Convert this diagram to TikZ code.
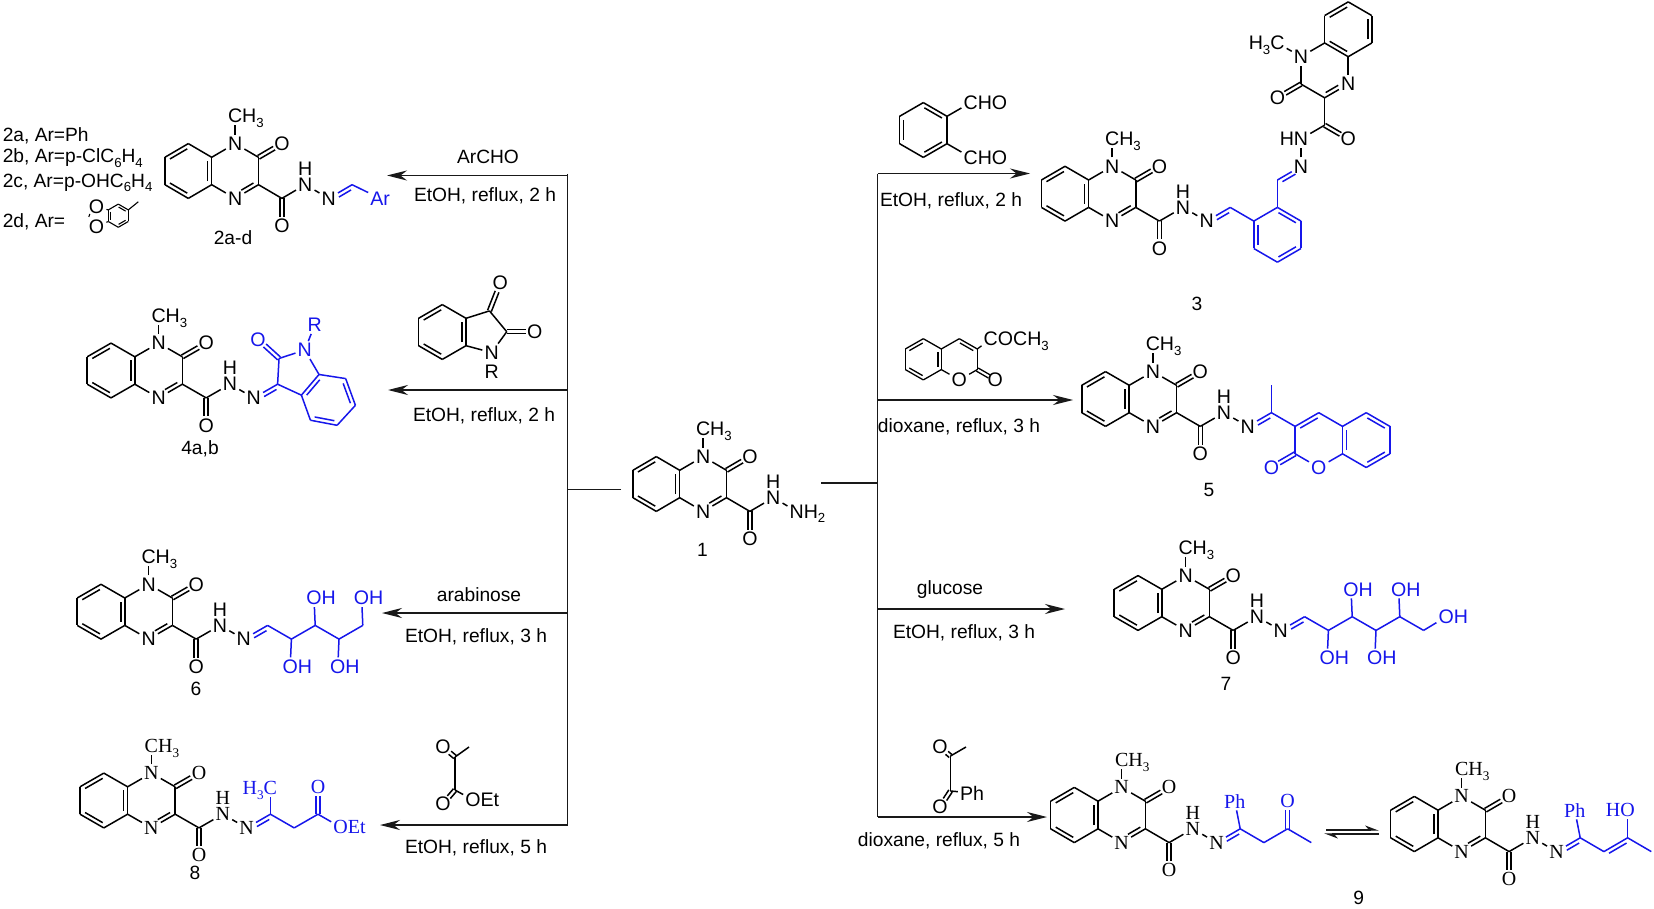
\documentclass[tikz,border=0pt]{standalone}
\usepackage{fontspec}
\setmainfont{Liberation Sans}
\newfontfamily\lserif{Liberation Serif}
\usetikzlibrary{calc,arrows.meta}
\definecolor{mblue}{RGB}{22,22,235}
\definecolor{lineblack}{RGB}{25,25,25}
\newcommand\lbl{\fontsize{9.6}{11}\selectfont}
\newcommand\atomf{\fontsize{9.8}{11}\selectfont}
\newcommand\subn[1]{\raisebox{-0.24em}{\fontsize{6.6}{7}\selectfont #1}}
\def\dd{2pt}
\tikzset{
  atom/.style={font=\atomf,inner sep=1.1pt,outer sep=0pt},
  txt/.style={font=\lbl,inner sep=0pt},
  mol/.style n args={4}{shift={(#1,#2)},x=#3,y=#4},
  rxn/.style={line width=.7pt,lineblack},
  rxnarrow/.style={rxn,-{Stealth[length=10pt,width=5pt]}},
}
\newcommand\atomR[4]{\node[atom] (#1) at #2 {#3}; \node[atom,anchor=base west] (#1x) at ($(#1.base east)+(-2.2pt,0)$) {#4};}
\newcommand\atomL[4]{\node[atom] (#1) at #2 {#3}; \node[atom,anchor=base east] (#1x) at ($(#1.base west)+(2.2pt,0)$) {#4};}
\newcommand\bnd[2]{\draw (#1)--(#2);}
\newcommand\dbl[5]{\draw (#1)--(#2); \draw ($(#1)!#3!(#2)!\dd!#5:(#2)$)--($(#1)!#4!(#2)!\dd!#5:(#2)$);}
\newcommand\dsym[2]{\draw[shorten >=4.5pt] ($(#1)!1pt!90:(#2)$)--($(#2)!1pt!-90:(#1)$); \draw[shorten >=4.5pt] ($(#1)!1pt!-90:(#2)$)--($(#2)!1pt!90:(#1)$);}
% fused ring: lattice hexagon with three inner double bonds (left part)
\newcommand\core[1]{
  \coordinate (#1a) at (0,2); \coordinate (#1b) at (-1,1); \coordinate (#1c) at (-1,-1);
  \coordinate (#1d) at (0,-2); \coordinate (#1e) at (1,-1); \coordinate (#1f) at (1,1);
  \coordinate (#1g) at (3,1); \coordinate (#1h) at (3,-1); \coordinate (#1i) at (4,-2);
  \node[atom] (#1N) at (2,2) {N};
  \atomR{#1Me}{(2,4)}{C}{H\subn{3}}
  \node[atom] (#1O) at (4,2) {O};
  \node[atom] (#1M) at (2,-2) {N};
  \node[atom] (#1P) at (4,-4) {O};
  \node[atom] (#1Q) at (5,-1) {N};
  \node[atom] (#1H) at (5,.17) {H};
  \node[atom] (#1R) at (6,-2) {N};
  \dbl{#1a}{#1b}{.13}{.87}{90}
  \bnd{#1b}{#1c}
  \dbl{#1c}{#1d}{.13}{.87}{90}
  \bnd{#1d}{#1e}
  \dbl{#1e}{#1f}{.13}{.87}{90}
  \bnd{#1f}{#1a}
  \bnd{#1f}{#1N}
  \bnd{#1N}{#1Me}
  \bnd{#1N}{#1g}
  \bnd{#1g}{#1h}
  \dsym{#1g}{#1O}
  \dbl{#1M}{#1h}{.35}{.87}{90}
  \bnd{#1e}{#1M}
  \bnd{#1h}{#1i}
  \dsym{#1i}{#1P}
  \bnd{#1i}{#1Q}
  \bnd{#1Q}{#1R}
}
\begin{document}
\begin{tikzpicture}[x=.5pt,y=-.5pt,line width=.75pt]
\useasboundingbox (0,0) rectangle (1654,909);
\fill[white] (0,0) rectangle (1654,909);
% scaffold coordinates
\coordinate (LT) at (567.5,174); \coordinate (LB) at (567.5,825);
\coordinate (LS) at (621,489.5); \coordinate (LM) at (567.5,489.5);
\coordinate (RT) at (877.5,174); \coordinate (RB) at (877.5,817);
\coordinate (RS) at (821,483); \coordinate (RM) at (877.5,483);
\coordinate (L1) at (567.5,175.5); \coordinate (L1t) at (387,175.5);
\coordinate (L2) at (567.5,390); \coordinate (L2t) at (388,390);
\coordinate (L3) at (567.5,613); \coordinate (L3t) at (382,613);
\coordinate (L4) at (567.5,825); \coordinate (L4t) at (380,825);
\coordinate (R1) at (877.5,173.5); \coordinate (R1t) at (1030,173.5);
\coordinate (R2) at (877.5,400); \coordinate (R2t) at (1073,400);
\coordinate (R3) at (877.5,609); \coordinate (R3t) at (1065,609);
\coordinate (R4) at (877.5,817); \coordinate (R4t) at (1047,817);
\draw[rxn] (LT)--(LB);
\draw[rxn] (LS)--(LM);
\draw[rxn] (RT)--(RB);
\draw[rxn] (RS)--(RM);
\foreach \a/\b in {L1/L1t,L2/L2t,L3/L3t,L4/L4t,R1/R1t,R2/R2t,R3/R3t,R4/R4t}{\draw[rxnarrow] (\a)--(\b);}
% conditions
\node[txt] (tL1a) at (488,157) {ArCHO};
\node[txt] (tL1b) at (485,196) {EtOH, reflux, 2 h};
\node[txt] (tL2) at (484,416) {EtOH, reflux, 2 h};
\node[txt] (tL3a) at (479,595) {arabinose};
\node[txt] (tL3b) at (476,637) {EtOH, reflux, 3 h};
\node[txt] (tL4) at (476,848) {EtOH, reflux, 5 h};
\node[txt] (tR1) at (951,201) {EtOH, reflux, 2 h};
\node[txt] (tR2) at (959,427) {dioxane, reflux, 3 h};
\node[txt] (tR3a) at (950,590) {glucose};
\node[txt] (tR3b) at (964,633) {EtOH, reflux, 3 h};
\node[txt] (tR4) at (939,841) {dioxane, reflux, 5 h};
% compound numbers
\node[txt] (n2) at (233,238) {2a-d};
\node[txt] (n4) at (200,449) {4a,b};
\node[txt] (n6) at (196,689) {6};
\node[txt] (n8) at (195,873) {8};
\node[txt] (n1) at (702.5,549.5) {1};
\node[txt] (n3) at (1197,304) {3};
\node[txt] (n5) at (1209,490) {5};
\node[txt] (n7) at (1226,683.5) {7};
\node[txt] (n9) at (1358.6,898) {9};
% Ar list
\node[txt,anchor=west] (l2a) at (2,136) {2a, Ar=Ph};
\node[txt,anchor=west] (l2b) at (2,158) {2b, Ar=p-ClC\subn{6}H\subn{4}};
\node[txt,anchor=west] (l2c) at (2,183) {2c, Ar=p-OHC\subn{6}H\subn{4}};
\node[txt,anchor=west] (l2d) at (2,222) {2d, Ar=};
% 2d Ar fragment
\begin{scope}[mol={118.3}{215.7}{5pt}{2.9pt},line width=.55pt]
\coordinate (za) at (0,2); \coordinate (zb) at (-1,1); \coordinate (zc) at (-1,-1);
\coordinate (zd) at (0,-2); \coordinate (ze) at (1,-1); \coordinate (zf) at (1,1);
\coordinate (zm) at (2,2.4);
\coordinate (zt1) at (-2.85,.3); \coordinate (zt2) at (-2.95,-.2);
\node[atom] (zO1) at (-2.17,1.54) {O};
\node[atom] (zO2) at (-2.17,-1.9) {O};
\def\dd{1.2pt}
\dbl{zb}{zc}{.15}{.85}{90}
\dbl{zd}{ze}{.15}{.85}{90}
\dbl{zf}{za}{.15}{.85}{90}
\bnd{za}{zb}\bnd{zc}{zd}\bnd{ze}{zf}\bnd{zf}{zm}
\bnd{zO1}{zb}\bnd{zO2}{zc}\bnd{zt1}{zt2}
\end{scope}
% 1
\begin{scope}[mol={656.3}{484}{11.7pt}{6.85pt}]
\core{a}
\node[atom,anchor=base west] (aNH) at ($(aR.base east)+(-2.2pt,0)$) {H\subn{2}};
\end{scope}
% 2
\begin{scope}[mol={188.3}{171}{11.7pt}{6.85pt}]
\core{b}
\begin{scope}[color=mblue]
\coordinate (bc1) at (7,-1);
\node[atom] (bAr) at (8.2,-2) {Ar};
\dbl{bR}{bc1}{.35}{.87}{-90}
\bnd{bc1}{bAr}
\end{scope}
\end{scope}
% 4
\begin{scope}[mol={111}{370.5}{11.9pt}{6.85pt}]
\core{d}
\begin{scope}[color=mblue]
\coordinate (dCa) at (7,-1); \coordinate (dCb) at (7.06,.88);
\node[atom] (dOx) at (6.18,2.27) {O};
\node[atom] (dNi) at (8.14,1.49) {N};
\node[atom] (dRr) at (8.56,3.32) {R};
\coordinate (d7a) at (8.74,-.29); \coordinate (d3a) at (8,-1.8);
\coordinate (d7) at (9.86,-.59); \coordinate (d6) at (10.27,-2.54);
\coordinate (d5) at (9.5,-4); \coordinate (d4) at (8.38,-3.63);
\dbl{dR}{dCa}{.35}{.87}{-90}
\bnd{dCa}{dCb}\dsym{dCb}{dOx}\bnd{dCb}{dNi}\bnd{dNi}{dRr}\bnd{dNi}{d7a}\bnd{dCa}{d3a}
\dbl{d3a}{d7a}{.13}{.87}{-90}
\bnd{d7a}{d7}
\dbl{d6}{d7}{.13}{.87}{90}
\bnd{d6}{d5}
\dbl{d4}{d5}{.13}{.87}{90}
\bnd{d3a}{d4}
\end{scope}
\end{scope}
% 6
\begin{scope}[mol={101}{611.7}{11.9pt}{6.85pt}]
\core{f}
\begin{scope}[color=mblue]
\coordinate (f7) at (7,-1); \coordinate (f8) at (8,-2); \coordinate (f9) at (9,-1);
\coordinate (f10) at (10,-2); \coordinate (f11) at (11,-1);
\atomR{fo1}{(7.95,-4)}{O}{H}
\atomR{fo2}{(8.95,1)}{O}{H}
\atomR{fo3}{(9.95,-4)}{O}{H}
\atomR{fo4}{(10.95,1)}{O}{H}
\dbl{fR}{f7}{.35}{.87}{-90}
\bnd{f7}{f8}\bnd{f8}{f9}\bnd{f9}{f10}\bnd{f10}{f11}
\bnd{f8}{fo1}\bnd{f9}{fo2}\bnd{f10}{fo3}\bnd{f11}{fo4}
\end{scope}
\end{scope}
% 7
\begin{scope}[mol={1138}{603}{11.9pt}{6.85pt}]
\core{g}
\begin{scope}[color=mblue]
\coordinate (g7) at (7,-1); \coordinate (g8) at (8,-2); \coordinate (g9) at (9,-1);
\coordinate (g10) at (10,-2); \coordinate (g11) at (11,-1); \coordinate (g12) at (12,-2);
\atomR{go1}{(7.95,-4)}{O}{H}
\atomR{go2}{(8.95,1)}{O}{H}
\atomR{go3}{(9.95,-4)}{O}{H}
\atomR{go4}{(10.95,1)}{O}{H}
\atomR{go5}{(12.95,-1)}{O}{H}
\dbl{gR}{g7}{.35}{.87}{-90}
\bnd{g7}{g8}\bnd{g8}{g9}\bnd{g9}{g10}\bnd{g10}{g11}\bnd{g11}{g12}\bnd{g12}{go5}
\bnd{g8}{go1}\bnd{g9}{go2}\bnd{g10}{go3}\bnd{g11}{go4}
\end{scope}
\end{scope}
% 3
\begin{scope}[mol={1065}{193.7}{11.8pt}{6.85pt}]
\core{c}
\begin{scope}[color=mblue]
\coordinate (c7) at (7,-1); \coordinate (c8) at (8,-2); \coordinate (c9) at (8,-4);
\coordinate (c10) at (9,-5); \coordinate (c11) at (10,-4); \coordinate (c12) at (10,-2);
\coordinate (c13) at (9,-1); \coordinate (c14) at (9,1);
\end{scope}
\node[atom] (cN2) at (10,2) {N};
\atomL{cN3}{(10,4)}{N}{H}
\coordinate (cC) at (11,5); \node[atom] (cO2) at (12,4) {O};
\coordinate (cD) at (11,7); \coordinate (cE) at (10,8); \node[atom] (cO3) at (9,7) {O};
\node[atom] (cN4) at (10,10) {N};
\atomL{cMe}{(9,11)}{C}{H\subn{3}}
\node[atom] (cN5) at (12,8) {N};
\coordinate (cF) at (12,10); \coordinate (cG) at (11,11); \coordinate (cJ) at (11,13);
\coordinate (cK) at (12,14); \coordinate (cL) at (13,13); \coordinate (cS) at (13,11);
\begin{scope}[color=mblue]
\dbl{cR}{c7}{.35}{.87}{-90}
\bnd{c7}{c8}
\dbl{c8}{c9}{.13}{.87}{90}
\bnd{c9}{c10}
\dbl{c10}{c11}{.13}{.87}{90}
\bnd{c11}{c12}
\dbl{c12}{c13}{.13}{.87}{90}
\bnd{c13}{c8}
\bnd{c13}{c14}
\dbl{c14}{cN2}{.13}{.68}{-90}
\end{scope}
\bnd{cN2}{cN3}\bnd{cN3}{cC}\dsym{cC}{cO2}\bnd{cC}{cD}\bnd{cD}{cE}\dsym{cE}{cO3}\bnd{cE}{cN4}
\bnd{cN4}{cMe}\bnd{cN4}{cG}
\dbl{cD}{cN5}{.13}{.66}{90}
\bnd{cN5}{cF}
\dbl{cG}{cF}{.13}{.87}{90}
\bnd{cG}{cJ}
\dbl{cK}{cJ}{.13}{.87}{90}
\bnd{cK}{cL}
\dbl{cS}{cL}{.13}{.87}{90}
\bnd{cS}{cF}
\end{scope}
% 5
\begin{scope}[mol={1105.5}{399}{11.85pt}{6.85pt}]
\core{e}
\begin{scope}[color=mblue]
\coordinate (e7) at (7,-1); \coordinate (e7m) at (7,1); \coordinate (e8) at (8,-2);
\coordinate (e9) at (9,-1); \coordinate (e10) at (10,-2); \coordinate (e11) at (11,-1);
\coordinate (e12) at (12,-2); \coordinate (e13) at (12,-4); \coordinate (e14) at (11,-5);
\coordinate (e15) at (10,-4); \coordinate (e17) at (8,-4);
\node[atom] (eO1) at (9,-5) {O};
\node[atom] (eO2) at (7,-5) {O};
\dbl{eR}{e7}{.35}{.87}{-90}
\bnd{e7}{e7m}\bnd{e7}{e8}
\dbl{e8}{e9}{.13}{.87}{-90}
\bnd{e9}{e10}\bnd{e10}{e11}
\dbl{e11}{e12}{.13}{.87}{-90}
\bnd{e12}{e13}
\dbl{e14}{e13}{.13}{.87}{90}
\bnd{e14}{e15}
\dbl{e15}{e10}{.13}{.87}{-90}
\bnd{e15}{eO1}\bnd{eO1}{e17}\bnd{e17}{e8}\dsym{e17}{eO2}
\end{scope}
\end{scope}
% 8
\begin{scope}[mol={103.8}{800.5}{11.9pt}{6.85pt}]
\renewcommand\atomf{\lserif\fontsize{10}{11}\selectfont}
\core{h}
\begin{scope}[color=mblue]
\coordinate (h7) at (7,-1); \coordinate (h8) at (8,-2); \coordinate (h9) at (9,-1);
\atomL{hMe}{(7,.9)}{C}{H\subn{3}}
\node[atom] (hO1) at (9,1) {O};
\atomR{hO2}{(9.95,-1.95)}{O}{Et}
\dbl{hR}{h7}{.35}{.87}{-90}
\bnd{h7}{hMe}\bnd{h7}{h8}\bnd{h8}{h9}\dsym{h9}{hO1}\bnd{h9}{hO2}
\end{scope}
\end{scope}
% 9a
\begin{scope}[mol={1074.3}{815}{11.85pt}{6.9pt}]
\renewcommand\atomf{\lserif\fontsize{10}{11}\selectfont}
\core{j}
\begin{scope}[color=mblue]
\coordinate (j7) at (7,-1); \coordinate (j8) at (8,-2); \coordinate (j9) at (9,-1); \coordinate (j10) at (10,-2);
\node[atom] (jPh) at (6.77,1) {Ph};
\node[atom] (jO1) at (9,1) {O};
\dbl{jR}{j7}{.35}{.87}{-90}
\bnd{j7}{jPh}\bnd{j7}{j8}\bnd{j8}{j9}\dsym{j9}{jO1}\bnd{j9}{j10}
\end{scope}
\end{scope}
% 9b
\begin{scope}[mol={1414.3}{824}{11.85pt}{6.9pt}]
\renewcommand\atomf{\lserif\fontsize{10}{11}\selectfont}
\core{k}
\begin{scope}[color=mblue]
\coordinate (k7) at (7,-1); \coordinate (k8) at (8,-2); \coordinate (k9) at (9,-1); \coordinate (k10) at (10,-2);
\node[atom] (kPh) at (6.77,1) {Ph};
\atomL{kO1}{(9,1)}{O}{H}
\dbl{kR}{k7}{.35}{.87}{-90}
\bnd{k7}{kPh}\bnd{k7}{k8}
\dbl{k8}{k9}{.13}{.87}{-90}
\bnd{k9}{kO1}\bnd{k9}{k10}
\end{scope}
\end{scope}
% equilibrium
\coordinate (qa) at (1326,830); \coordinate (qb) at (1379,830);
\coordinate (qc) at (1379,834); \coordinate (qd) at (1324,834);
\draw[rxn,-{Stealth[harpoon,length=6pt,width=4.5pt]}] (qa)--(qb);
\draw[rxn,-{Stealth[harpoon,length=6pt,width=4.5pt]}] (qc)--(qd);
% reagent o-phthalaldehyde
\begin{scope}[mol={923.3}{130}{11.85pt}{6.85pt}]
\coordinate (ra) at (0,2); \coordinate (rb) at (-1,1); \coordinate (rc) at (-1,-1);
\coordinate (rd) at (0,-2); \coordinate (re) at (1,-1); \coordinate (rf) at (1,1);
\atomR{rC1}{(2,2)}{C}{HO}
\atomR{rC2}{(2,-2)}{C}{HO}
\dbl{rf}{ra}{.13}{.87}{90}\bnd{ra}{rb}
\dbl{rb}{rc}{.13}{.87}{90}\bnd{rc}{rd}
\dbl{rd}{re}{.13}{.87}{90}\bnd{re}{rf}
\bnd{rf}{rC1}\bnd{re}{rC2}
\end{scope}
% reagent coumarin
\begin{scope}[mol={923.3}{359.3}{9pt}{5.15pt},line width=.65pt]
\def\dd{1.7pt}
\coordinate (sa) at (0,2); \coordinate (sb) at (-1,1); \coordinate (sc) at (-1,-1);
\coordinate (sd) at (0,-2); \coordinate (se) at (1,-1); \coordinate (sf) at (1,1);
\coordinate (sg) at (2,2); \coordinate (sh) at (3,1); \coordinate (si) at (3,-1);
\node[atom] (sO) at (2,-2) {O};
\node[atom] (sO2) at (4,-2) {O};
\atomR{sC}{(3.75,2)}{C}{OCH\subn{3}}
\dbl{sa}{sb}{.13}{.87}{90}\bnd{sb}{sc}
\dbl{sc}{sd}{.13}{.87}{90}\bnd{sd}{se}
\dbl{se}{sf}{.13}{.87}{90}\bnd{sf}{sa}
\bnd{sf}{sg}
\dbl{sg}{sh}{.13}{.87}{-90}
\bnd{sh}{si}\bnd{si}{sO}\bnd{sO}{se}\bnd{sh}{sC}
\draw[shorten >=3.5pt] ($(si)!.9pt!90:(sO2)$)--($(sO2)!.9pt!-90:(si)$);
\draw[shorten >=3.5pt] ($(si)!.9pt!-90:(sO2)$)--($(sO2)!.9pt!90:(si)$);
\end{scope}
% reagent isatin
\begin{scope}[mol={442.3}{332}{11.85pt}{6.85pt}]
\coordinate (ia) at (0,2); \coordinate (ib) at (-1,1); \coordinate (ic) at (-1,-1);
\coordinate (id) at (0,-2); \coordinate (ie) at (1,-1); \coordinate (if) at (1,1);
\coordinate (ig) at (1.99,1.54); \coordinate (ih) at (2.72,.02);
\node[atom] (iO1) at (2.45,3.56) {O};
\node[atom] (iO2) at (3.9,.02) {O};
\node[atom] (iN) at (2.08,-1.5) {N};
\node[atom] (iR) at (2.08,-2.9) {R};
\dbl{ia}{ib}{.13}{.87}{90}\bnd{ib}{ic}
\dbl{ic}{id}{.13}{.87}{90}\bnd{id}{ie}
\dbl{ie}{if}{.13}{.87}{90}\bnd{if}{ia}
\bnd{if}{ig}\bnd{ig}{ih}\bnd{ih}{iN}\bnd{iN}{ie}\dsym{ig}{iO1}\dsym{ih}{iO2}
\end{scope}
% reagent ethyl acetoacetate
\coordinate (uC1) at (455,757); \coordinate (uMe) at (469,747); \coordinate (uC2) at (455,773); \coordinate (uC3) at (455,790);
\node[atom] (uO1) at (443,747) {O};
\node[atom] (uO2) at (443,804) {O};
\atomR{uO3}{(473,800)}{O}{Et}
\dsym{uC1}{uO1}\bnd{uC1}{uMe}\bnd{uC1}{uC2}\bnd{uC2}{uC3}\dsym{uC3}{uO2}\bnd{uC3}{uO3}
% reagent benzoylacetone
\coordinate (vC1) at (950.5,756); \coordinate (vMe) at (966,747); \coordinate (vC2) at (950.5,773); \coordinate (vC3) at (950.5,791);
\node[atom] (vO1) at (940,747) {O};
\node[atom] (vO2) at (940,807) {O};
\node[atom] (vPh) at (972,793) {Ph};
\dsym{vC1}{vO1}\bnd{vC1}{vMe}\bnd{vC1}{vC2}\bnd{vC2}{vC3}\dsym{vC3}{vO2}\bnd{vC3}{vPh}
\end{tikzpicture}
\end{document}
